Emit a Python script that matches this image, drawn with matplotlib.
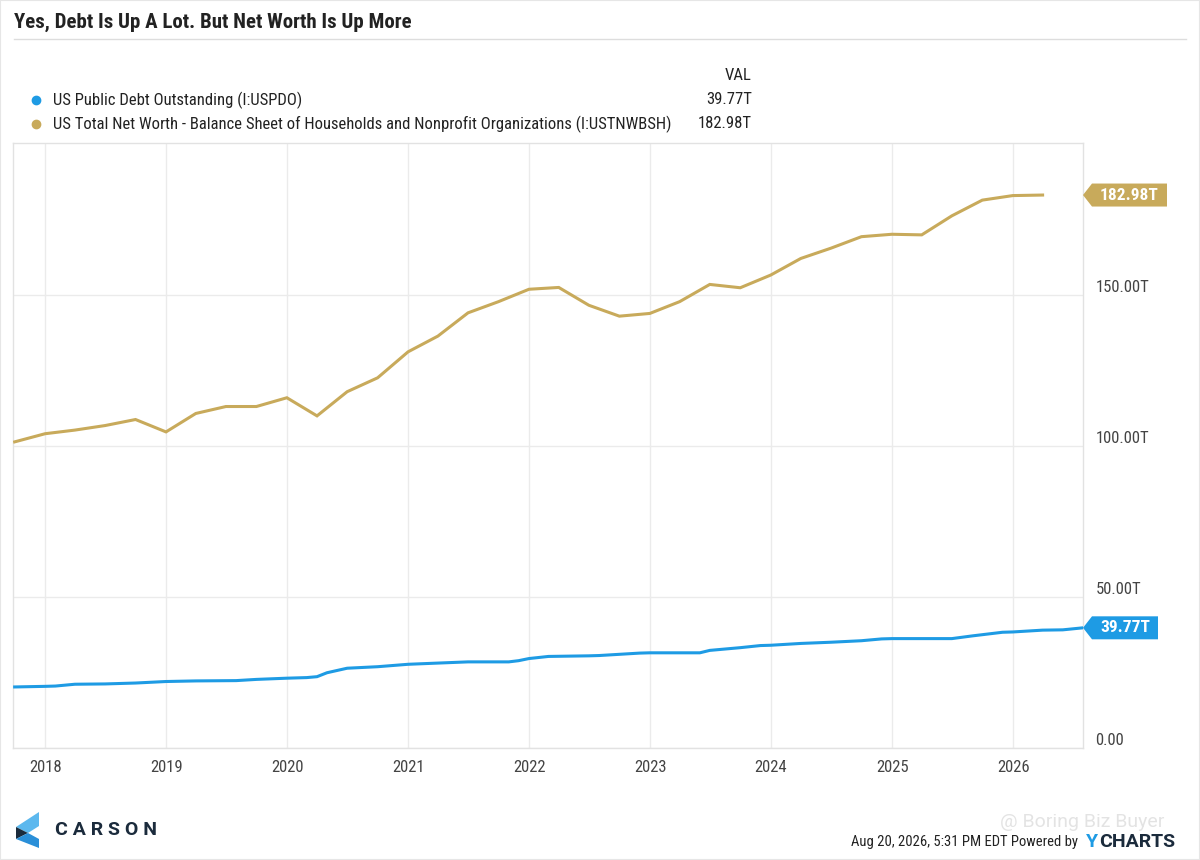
import datetime as dt
import matplotlib
matplotlib.use("Agg")
import matplotlib.pyplot as plt
import matplotlib.dates as mdates
from matplotlib import font_manager
from matplotlib.patches import Polygon, Rectangle
from matplotlib.lines import Line2D

# net worth, quarter ends, trillions
nw_dates = ["2017-09-30", "2017-12-31", "2018-03-31", "2018-06-30", "2018-09-30",
            "2018-12-31", "2019-03-31", "2019-06-30", "2019-09-30", "2019-12-31",
            "2020-03-31", "2020-06-30", "2020-09-30", "2020-12-31", "2021-03-31",
            "2021-06-30", "2021-09-30", "2021-12-31", "2022-03-31", "2022-06-30",
            "2022-09-30", "2022-12-31", "2023-03-31", "2023-06-30", "2023-09-30",
            "2023-12-31", "2024-03-31", "2024-06-30", "2024-09-30", "2024-12-31",
            "2025-03-31", "2025-06-30", "2025-09-30", "2025-12-31", "2026-03-31"]
nw_vals = [101.3, 104.0, 105.2, 106.7, 108.7, 104.6, 110.7, 113.0, 113.0, 115.9,
           109.9, 117.9, 122.5, 131.1, 136.3, 144.0, 147.7, 151.8, 152.4, 146.5,
           142.9, 143.8, 147.7, 153.4, 152.3, 156.5, 162.0, 165.4, 169.2, 170.0,
           169.8, 176.1, 181.3, 182.8, 182.98]

# public debt outstanding, trillions
debt_dates = ["2017-09-30", "2017-12-31", "2018-01-31", "2018-03-31", "2018-06-30",
              "2018-09-30", "2018-12-31", "2019-03-31", "2019-07-31", "2019-09-30",
              "2019-12-31", "2020-02-29", "2020-03-31", "2020-04-30", "2020-06-30",
              "2020-09-30", "2020-12-31", "2021-03-31", "2021-06-30", "2021-10-31",
              "2021-11-30", "2021-12-31", "2022-02-28", "2022-06-30", "2022-07-31",
              "2022-09-30", "2022-11-30", "2022-12-31", "2023-05-31", "2023-06-30",
              "2023-09-30", "2023-11-30", "2023-12-31", "2024-03-31", "2024-06-30",
              "2024-09-30", "2024-11-30", "2024-12-31", "2025-06-30", "2025-08-31",
              "2025-11-30", "2025-12-31", "2026-03-31", "2026-05-31", "2026-07-31"]
debt_vals = [20.2, 20.4, 20.5, 21.1, 21.2, 21.5, 22.0, 22.2, 22.3, 22.7,
             23.1, 23.3, 23.6, 24.9, 26.4, 26.9, 27.7, 28.1, 28.5, 28.5,
             28.9, 29.6, 30.3, 30.5, 30.6, 31.0, 31.4, 31.5, 31.5, 32.3,
             33.2, 33.9, 34.0, 34.6, 35.0, 35.5, 36.1, 36.2, 36.2, 37.1,
             38.3, 38.4, 39.0, 39.1, 39.77]

y_ticks = [0, 50, 100, 150]
y_labels = ["0.00", "50.00T", "100.00T", "150.00T"]
years = list(range(2018, 2027))

BLUE = "#1e9be4"
TAN = "#c8aa5b"
GRID = "#ebebeb"
TEXT = "#222222"


def pick_font(names):
    have = set(f.name for f in font_manager.fontManager.ttflist)
    for n in names:
        if n in have:
            return n
    return "DejaVu Sans"


narrow = pick_font(["Liberation Sans Narrow", "Roboto Condensed", "Roboto"])
plain = pick_font(["Roboto", "Liberation Sans", "DejaVu Sans"])
plt.rcParams["font.family"] = [narrow, "DejaVu Sans"]

W, H = 1200, 860
fig = plt.figure(figsize=(12, 8.6), dpi=100)


def fx(px):
    return px / W


def fy(py):
    return 1 - py / H


ax = fig.add_axes([fx(13), fy(748), fx(1083) - fx(13), fy(143) - fy(748)])

to_d = lambda s: dt.datetime.strptime(s, "%Y-%m-%d")
nw_x = [to_d(s) for s in nw_dates]
debt_x = [to_d(s) for s in debt_dates]

ax.plot(nw_x, nw_vals, color=TAN, lw=2.2, solid_joinstyle="miter", zorder=3)
ax.plot(debt_x, debt_vals, color=BLUE, lw=2.2, zorder=3)

ax.set_xlim(dt.datetime(2017, 9, 25), dt.datetime(2026, 7, 31))
ax.set_ylim(0, 200.2)

ax.yaxis.tick_right()
ax.set_yticks(y_ticks)
ax.set_yticklabels(y_labels)
ax.set_xticks([dt.datetime(y, 1, 1) for y in years])
ax.set_xticklabels([str(y) for y in years])
ax.tick_params(axis="both", length=0, labelsize=12, labelcolor="#444444")
ax.tick_params(axis="y", pad=9)
ax.tick_params(axis="x", pad=9)
for lab in ax.get_yticklabels():
    lab.set_verticalalignment("bottom")
ax.grid(True, color=GRID, lw=1)
ax.set_axisbelow(True)
for sp in ax.spines.values():
    sp.set_color("#e2e2e2")
    sp.set_linewidth(1)

# end-value badges
fig.canvas.draw()


def badge(val, text, color, w):
    _, ypix = ax.transData.transform((mdates.date2num(dt.datetime(2026, 7, 31)), val))
    ypx = H - ypix
    x0 = 1083
    h = 11.5
    pts = [(x0, ypx), (x0 + 9, ypx - h), (x0 + w, ypx - h),
           (x0 + w, ypx + h), (x0 + 9, ypx + h)]
    poly = Polygon([(fx(a), fy(b)) for a, b in pts], closed=True,
                   transform=fig.transFigure, facecolor=color, edgecolor="none")
    fig.patches.append(poly)
    fig.text(fx(x0 + 9 + (w - 9) / 2), fy(ypx), text, color="white",
             fontsize=12.5, fontweight="bold", ha="center", va="center")


badge(nw_vals[-1], "182.98T", TAN, 84)
badge(debt_vals[-1], "39.77T", BLUE, 75)

# title and rule
fig.text(fx(14), fy(22), "Yes, Debt Is Up A Lot. But Net Worth Is Up More",
         fontsize=15, fontweight="bold", color=TEXT, va="center")
fig.add_artist(Line2D([fx(14), fx(1186)], [fy(39), fy(39)], color="#dddddd", lw=1))

# legend table
fig.text(fx(752), fy(75), "VAL", fontsize=12, color=TEXT, ha="right", va="center")
legend_rows = [("US Public Debt Outstanding (I:USPDO)", "39.77T", BLUE),
               ("US Total Net Worth - Balance Sheet of Households and Nonprofit "
                "Organizations (I:USTNWBSH)", "182.98T", TAN)]
for i, (name, val, c) in enumerate(legend_rows):
    yy = 100 + i * 24
    fig.add_artist(Line2D([fx(36)], [fy(yy)], marker="o", ms=6, color=c, lw=0))
    fig.text(fx(53), fy(yy), name, fontsize=12, color=TEXT, va="center")
    fig.text(fx(752), fy(yy), val, fontsize=12, color=TEXT, ha="right", va="center")

# footer: carson logo (chevron)
logo = [([(16, 827), (39, 812), (39, 826), (28, 833)], "#5cb8ee"),
        ([(16, 827), (28, 833), (16, 839)], "#1b2b3c"),
        ([(16, 839), (28, 833), (39, 839), (39, 848)], "#2a8fd8")]
for pts, c in logo:
    fig.patches.append(Polygon([(fx(a), fy(b)) for a, b in pts], closed=True,
                               transform=fig.transFigure, facecolor=c,
                               edgecolor="none"))
fig.text(fx(55), fy(830), "C A R S O N", fontsize=14, fontweight="bold",
         color="#1b2b3c", va="center", family=plain)

fig.text(fx(1078), fy(842), "Aug 20, 2026, 5:31 PM EDT Powered by",
         fontsize=10.5, color=TEXT, ha="right", va="center")
ylogo = fig.text(fx(1086), fy(842), "Y", fontsize=14, fontweight="bold",
                 color=BLUE, va="center", family=plain)
fig.text(0, 0, "CHARTS", fontsize=14, fontweight="bold", color="#1b2b3c",
         va="center", ha="left", family=plain)
fig.texts[-1].remove()
fig.add_artist(plt.Annotation("CHARTS", xy=(1.0, 0.5), xycoords=ylogo,
                              xytext=(1, 0), textcoords="offset points",
                              fontsize=14, fontweight="bold", color="#1b2b3c",
                              va="center", ha="left", family=plain))
fig.text(fx(1000), fy(822), "@ Boring Biz Buyer", fontsize=14, color="#d8d8d8",
         va="center", alpha=0.7, family=plain)

# outer frame
fig.patches.append(Rectangle((0, 0), 1, 1, transform=fig.transFigure,
                             fill=False, edgecolor="#e6e6e6", lw=1.5))

fig.savefig("out.png", dpi=100)
